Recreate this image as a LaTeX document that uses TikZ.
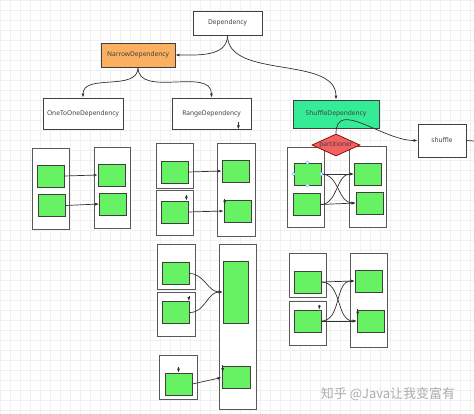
\documentclass[tikz,border=0pt]{standalone}
\usepackage{fontspec}
\setmainfont{Noto Sans}
\newfontfamily\cjk{Noto Sans CJK SC}
\usetikzlibrary{shapes.geometric,arrows.meta}
\definecolor{blkgreen}{RGB}{102,242,98}
\definecolor{narrowor}{RGB}{250,176,96}
\definecolor{shufgreen}{RGB}{52,236,150}
\definecolor{partred}{RGB}{242,96,96}

\begin{document}
\begin{tikzpicture}[x=1pt,y=-1pt]
    \tikzstyle{every node}=[font=\fontsize{6.6}{8}\selectfont, text=black!75]
    \tikzstyle{cls}=[draw=black!75, line width=0.8pt, fill=white, inner sep=0pt]
    \tikzstyle{part}=[draw=black!65, line width=0.8pt, fill=white, minimum width=37pt]
    \tikzstyle{blk}=[draw=black!75, line width=0.7pt, fill=blkgreen, minimum width=27pt, minimum height=22pt]
    \tikzstyle{arr}=[-{Latex[length=4pt,width=3pt]}, draw=black!80, line width=0.7pt]
    \tikzstyle{handle}=[draw=blue!45!cyan!70, fill=white, line width=0.4pt]
    \useasboundingbox (0,0) rectangle (474,414);
    \fill[white] (0,0) rectangle (474,414);
    \draw[step=10pt, black!6, line width=0.4pt] (0,0) grid (474,414);

    % classes
    \node[cls, minimum width=69pt, minimum height=24pt] (dep) at (227.5,23) {Dependency};
    \node[cls, fill=narrowor, minimum width=74pt, minimum height=24pt] (narrow) at (138,55) {NarrowDependency};
    \node[cls, minimum width=80pt, minimum height=31pt] (onetoone) at (83,113.5) {OneToOneDependency};
    \node[cls, minimum width=79pt, minimum height=31pt] (range) at (211.5,113.5) {RangeDependency};
    \node[cls, fill=shufgreen, minimum width=86pt, minimum height=28pt] (shufdep) at (336,114) {ShuffleDependency};
    \node[cls, minimum width=48pt, minimum height=33pt] (shuffle) at (442,140.5) {shuffle};
    \coordinate (out) at (474,141);

    \draw[arr] (dep.south) to[out=-90, in=0] (narrow.east);
    \draw[arr] (dep.south) to[out=-90, in=90, looseness=0.9] (shufdep.north);
    \draw[arr] (narrow.south) to[out=-90, in=90] (onetoone.north);
    \draw[arr] (narrow.south) to[out=-90, in=90] (range.north);
    \draw[arr] ([shift={(-13,-7)}]range.south east) -- ([xshift=-13pt]range.south east);
    \draw[line width=0.7pt, black!80] (shuffle.east) -- (out);

    % one to one
    \node[part, minimum height=81pt] (oa) at (50.5,188.5) {};
    \node[part, minimum width=36pt, minimum height=81pt] (ob) at (112,187.5) {};
    \node[blk] (oa1) at (50.5,176) {};
    \node[blk] (oa2) at (51.5,205.5) {};
    \node[blk] (ob1) at (111.5,175) {};
    \node[blk] (ob2) at (113,204) {};
    \draw[arr] (oa1.east) -- (ob1.west);
    \draw[arr] (oa2.east) -- (ob2.west);

    % range, first
    \node[part, minimum height=45pt] (ra) at (174.5,165.5) {};
    \node[part, minimum height=45pt] (rb) at (174.5,212.5) {};
    \node[part, minimum width=38pt, minimum height=93pt] (rc) at (236,189.5) {};
    \node[blk] (ra1) at (174.5,172) {};
    \node[blk] (rb1) at (174.5,212) {};
    \node[blk] (rc1) at (235.5,171) {};
    \node[blk] (rc2) at (237.5,211) {};
    \draw[arr] (ra1.east) -- (rc1.west);
    \draw[arr] (rb1.east) -- (rc2.west);
    \draw[arr] ([shift={(-2,-6)}]rb1.north east) -- ([xshift=-2pt]rb1.north east);
    \draw[arr] ([shift={(1,-1)}]rc2.north west) -- ([shift={(1,5)}]rc2.north west);

    % range, second
    \node[part, minimum width=38pt, minimum height=45pt] (rd) at (176,266.5) {};
    \node[part, minimum width=38pt, minimum height=44pt] (re) at (176,314) {};
    \node[part, minimum width=38pt, minimum height=44pt] (rf) at (178,377) {};
    \node[part, minimum height=165pt] (rg) at (237.5,326.5) {};
    \node[blk] (rd1) at (175.5,273.5) {};
    \node[blk] (re1) at (176,312.5) {};
    \node[blk] (rf1) at (178.5,384) {};
    \node[blk, minimum width=25pt, minimum height=62pt] (rg1) at (235.5,292) {};
    \node[blk, minimum width=28pt] (rg2) at (236,377.5) {};
    \draw[arr] (rd1.east) to[out=0, in=180] (rg1.west);
    \draw[arr] (re1.east) to[out=0, in=180] (rg1.west);
    \draw[arr] (rf1.east) -- (rg2.west);
    \draw[arr] ([shift={(-1,-5)}]re1.north east) -- ([xshift=-1pt]re1.north east);
    \draw[arr] ([yshift=6pt]rf1.north) -- (rf1.north);
    \draw[arr] ([shift={(1,-1)}]rg2.north west) -- ([shift={(1,6)}]rg2.north west);

    % shuffle, first
    \node[part, minimum height=80pt] (sa) at (305.5,187) {};
    \node[part, minimum height=81pt] (sb) at (367.5,186.5) {};
    \node[blk] (sa1) at (307.5,174) {};
    \node[blk] (sa2) at (306.5,204.5) {};
    \node[blk] (sb1) at (367.5,174) {};
    \node[blk] (sb2) at (369.5,203) {};
    \draw[arr] (sa1.east) -- (sb1.west);
    \draw[arr] (sa1.east) to[out=0, in=180] (sb2.west);
    \draw[arr] (sa2.east) to[out=0, in=180] (sb1.west);
    \draw[arr] (sa2.east) -- (sb2.west);
    \foreach \a in {north,south,east,west}
        \draw[handle] (sa1.\a) circle (1.8pt);

    \node[diamond, draw=red!55!black, line width=0.7pt, fill=partred, aspect=2.2, inner sep=0pt,
          minimum width=48pt, minimum height=22pt] (parti) at (336,145) {partitioner};
    \draw[arr] (parti.north) to[out=90, in=180, looseness=1.1] (shuffle.west);

    % shuffle, second
    \node[part, minimum height=44pt] (sc) at (307.5,275) {};
    \node[part, minimum height=44pt] (sd) at (307.5,323) {};
    \node[part, minimum height=94pt] (se) at (368.5,300) {};
    \node[blk] (sc1) at (307.5,282) {};
    \node[blk] (sd1) at (307.5,321) {};
    \node[blk] (se1) at (368.5,281) {};
    \node[blk] (se2) at (370.5,321) {};
    \draw[arr] (sc1.east) -- (se1.west);
    \draw[arr] (sc1.east) to[out=0, in=180] (se2.west);
    \draw[arr] (sd1.east) to[out=0, in=180] (se1.west);
    \draw[arr] (sd1.east) -- (se2.west);
    \draw[arr] ([shift={(-2,-5)}]sd1.north east) -- ([xshift=-2pt]sd1.north east);
    \draw[arr] ([shift={(1,-1)}]se2.north west) -- ([shift={(1,6)}]se2.north west);

    \node[font=\cjk\fontsize{13}{15}\selectfont, text=black!32] (mark) at (388,394) {知乎 @Java让我变富有};
\end{tikzpicture}
\end{document}
